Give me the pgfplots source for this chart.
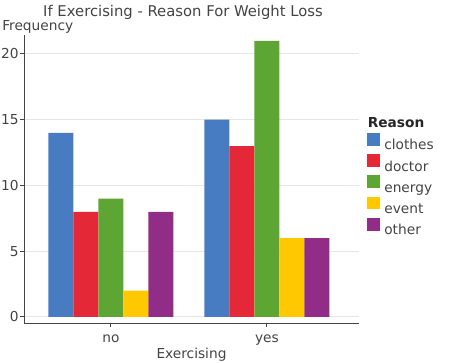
\documentclass[border=0pt]{standalone}
\usepackage{pgfplots}
\pgfplotsset{compat=1.18}
\usepackage{fontspec}
\setmainfont{DejaVu Sans}
\definecolor{txt}{HTML}{444444}
\definecolor{cclothes}{HTML}{487CC2}
\definecolor{cdoctor}{HTML}{E42838}
\definecolor{cenergy}{HTML}{5EA634}
\definecolor{cevent}{HTML}{FFC800}
\definecolor{cother}{HTML}{912D87}
\definecolor{gridc}{HTML}{E6E6E6}
\begin{document}
\begin{tikzpicture}[x=0.75pt,y=0.75pt,font=\fontsize{10.3}{12}\selectfont]
\useasboundingbox (0,0) rectangle (455,363);
\begin{axis}[
  at={(18.225pt,29.775pt)}, anchor=south west,
  scale only axis, width=250.8pt, height=216.2pt,
  xmin=-0.555, xmax=1.588, ymin=-0.48, ymax=21.44,
  axis lines=left, axis line style={-, draw=txt, line width=0.75pt},
  ybar=0pt, bar width=0.1603,
  xtick={0,1}, xticklabels={no,yes},
  ytick={0,5,10,15,20},
  tick align=outside, major tick length=3pt,
  tick style={draw=txt, line width=0.75pt},
  ymajorgrids, grid style={draw=gridc, line width=0.75pt},
  /pgf/number format/assume math mode=true,
  ticklabel style={font=\fontsize{10.3}{12}\selectfont, text=txt},
  yticklabel style={inner sep=1pt},
  xticklabel style={inner sep=1pt, yshift=-4.5pt},
  xlabel={Exercising}, xlabel style={font=\fontsize{10.3}{12}\selectfont, text=txt, inner sep=0pt, yshift=-1pt},
  legend style={at={(1.0248,0.6615)}, anchor=north west, draw=none, fill=none, inner sep=0pt,
    row sep=0.7pt, column sep=3.3pt, font=\fontsize{10.3}{12}\selectfont, text=txt,
    nodes={inner sep=0pt, text height=10pt, text depth=2.5pt}},
  legend cell align=left,
  legend image code/.code={\fill[#1,draw=none] (0pt,-0.5pt) rectangle (9.5pt,9pt);},
]
\addplot[fill=cclothes, draw=none, bar shift=-0.3206] coordinates {(0,14) (1,15)};
\addplot[fill=cdoctor, draw=none, bar shift=-0.1603] coordinates {(0,8) (1,13)};
\addplot[fill=cenergy, draw=none, bar shift=0] coordinates {(0,9) (1,21)};
\addplot[fill=cevent, draw=none, bar shift=0.1603] coordinates {(0,2) (1,6)};
\addplot[fill=cother, draw=none, bar shift=0.3206] coordinates {(0,8) (1,6)};
\legend{clothes,doctor,energy,event,other}
\end{axis}
\node[anchor=center, text=txt, font=\fontsize{11.1}{13}\selectfont] at (183,351) {If Exercising - Reason For Weight Loss};
\node[anchor=west, text=txt, inner sep=0pt] at (2,336) {Frequency};
\node[anchor=west, text=black!85, inner sep=0pt, font=\fontsize{10.3}{12}\selectfont\bfseries] at (367.5,240) {Reason};
\end{tikzpicture}
\end{document}
